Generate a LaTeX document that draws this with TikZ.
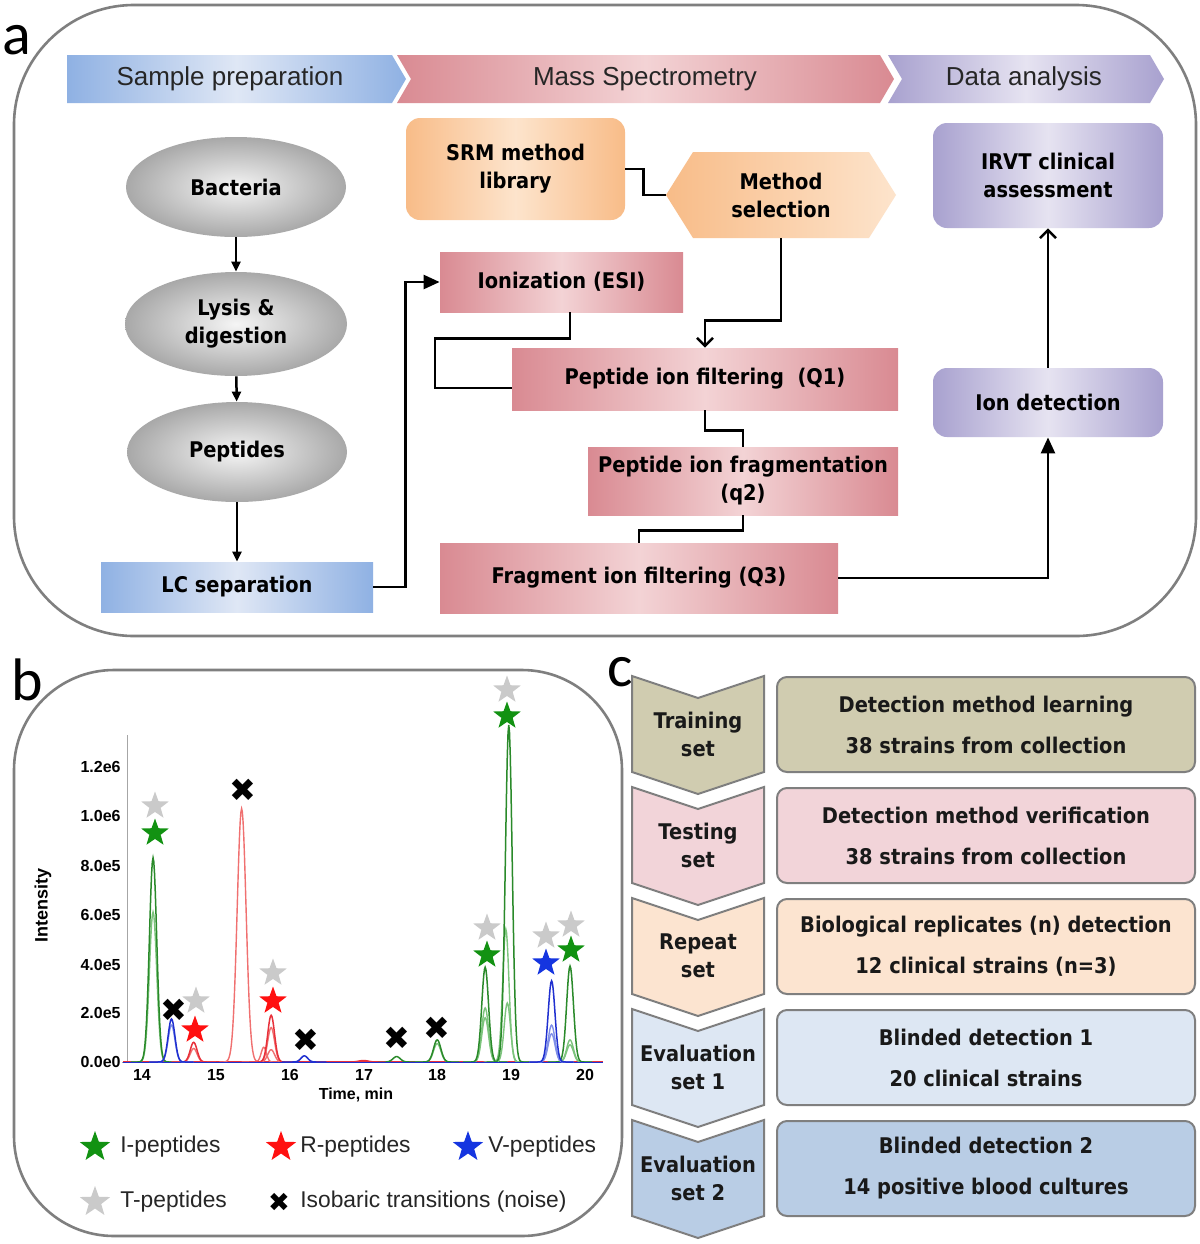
\documentclass[tikz,border=0pt]{standalone}
\usepackage{fontspec}
\setmainfont{Liberation Sans}
\newfontfamily\tah[FakeStretch=0.9]{DejaVu Sans}
\newfontfamily\djv{DejaVu Sans}
\newfontfamily\calfont{Carlito}
\usetikzlibrary{shapes.geometric,arrows.meta,calc}
\newcommand\bfont{\tah\bfseries\fontsize{10.8pt}{14pt}\selectfont}
\definecolor{frameC}{HTML}{7F7F7F}
\definecolor{spB}{HTML}{8FB1E3}
\definecolor{spL}{HTML}{DFE7F5}
\definecolor{msB}{HTML}{D98A92}
\definecolor{msL}{HTML}{F3D3D5}
\definecolor{daB}{HTML}{A8A1CF}
\definecolor{daL}{HTML}{E6E3F1}
\definecolor{orB}{HTML}{F8BC88}
\definecolor{orL}{HTML}{FDE4CC}
\definecolor{gD}{HTML}{2A8A2A}
\definecolor{gLc}{HTML}{7CC47C}
\definecolor{rDc}{HTML}{E8303A}
\definecolor{rLc}{HTML}{F07070}
\definecolor{bDc}{HTML}{2030D0}
\definecolor{bLc}{HTML}{8090E8}
\definecolor{stG}{HTML}{129212}
\definecolor{stR}{HTML}{FF1010}
\definecolor{stB}{HTML}{1535E0}
\definecolor{stT}{HTML}{CACACA}
\definecolor{c1}{HTML}{D0CCB0}
\definecolor{c2}{HTML}{F2D4D9}
\definecolor{c3}{HTML}{FCE4D0}
\definecolor{c4}{HTML}{DDE7F3}
\definecolor{c5}{HTML}{B9CDE5}
\newcommand\pk[4]{\draw[#1] plot[domain=-0.3:0.3,samples=61] ({142+(#2+\x-14)*73.8},{1062-#3*24.6*exp(-(\x/#4)*(\x/#4))});}
\begin{document}
\begin{tikzpicture}[x=0.5pt,y=-0.5pt,
  frame/.style={draw=frameC, line width=1.3pt},
  hdr/.style={font=\fontsize{13pt}{15pt}\selectfont, text=black!85, inner sep=0},
  ell/.style={ellipse, inner sep=0, inner color=gray!8, outer color=gray!68, font=\bfont, align=center},
  pinkbox/.style={rectangle, inner sep=0, left color=msB, right color=msB, middle color=msL, font=\bfont, align=center},
  bluebox/.style={rectangle, inner sep=0, left color=spB, right color=spB, middle color=spL, font=\bfont, align=center},
  lavbox/.style={rectangle, rounded corners=7pt, inner sep=0, left color=daB, right color=daB, middle color=daL, font=\bfont, align=center},
  orbox/.style={rectangle, rounded corners=7pt, inner sep=0, left color=orB, right color=orB, middle color=orL, font=\bfont, align=center},
  conn/.style={line width=1.25pt, draw=black},
  arS/.style={-{Triangle[length=5pt,width=4.5pt]}},
  arB/.style={-{Triangle[length=8pt,width=7pt]}},
  arO/.style={-{Straight Barb[length=4pt,width=8pt]}},
  gL/.style={draw=gLc, line width=0.7pt},
  gDk/.style={draw=gD, line width=0.75pt},
  rL/.style={draw=rLc, line width=0.7pt},
  rD/.style={draw=rDc, line width=0.75pt},
  bL/.style={draw=bLc, line width=0.7pt},
  bD/.style={draw=bDc, line width=0.75pt},
  pstar/.style={star, star points=5, star point ratio=2.45, minimum size=14.5pt, inner sep=0},
  xm/.style={font=\djv\fontsize{16pt}{16pt}\selectfont, inner sep=0},
  tick/.style={font=\bfseries\fontsize{8pt}{9pt}\selectfont, inner sep=0},
  leg/.style={font=\fontsize{11.4pt}{13pt}\selectfont, text=black!85, inner sep=0, anchor=west},
  chev/.style={draw=frameC, line width=1pt},
  chevt/.style={font=\bfont, align=center, inner sep=0, text=black!90},
  cbox/.style={rectangle, rounded corners=5pt, draw=frameC, line width=1pt, minimum width=209pt, minimum height=47.5pt, inner sep=0, align=center, font=\tah\bfseries\fontsize{10.8pt}{20.5pt}\selectfont, text=black!90}
]
\useasboundingbox (0,0) rectangle (1200,1244);
\fill[white] (0,0) rectangle (1200,1244);

% ---------------- panel a ----------------
\draw[frame, rounded corners=60pt] (14,5) rectangle (1196,636);
\node[font=\calfont\fontsize{30pt}{30pt}\selectfont, inner sep=0] (la) at (17,40) {a};

\path[left color=spB, right color=spB, middle color=spL] (67,55) -- (392,55) -- (406,79) -- (392,103) -- (67,103) -- cycle;
\path[left color=msB, right color=msB, middle color=msL] (397,55) -- (880,55) -- (894,79) -- (880,103) -- (397,103) -- (411,79) -- cycle;
\path[left color=daB, right color=daB, middle color=daL] (888,55) -- (1150,55) -- (1164,79) -- (1150,103) -- (888,103) -- (902,79) -- cycle;
\node[hdr] (hsp) at (230,79) {Sample preparation};
\node[hdr] (hms) at (645,79) {Mass Spectrometry};
\node[hdr] (hda) at (1024,79) {Data analysis};

\node[ell, minimum width=110pt, minimum height=50pt] (bact) at (236,187) {Bacteria};
\node[ell, minimum width=111pt, minimum height=52pt] (lysis) at (236,324) {Lysis \&\\digestion};
\node[ell, minimum width=110pt, minimum height=50pt] (pept) at (237,452) {Peptides};
\node[bluebox, minimum width=136pt, minimum height=25pt] (lc) at (237,587) {LC separation};

\node[orbox, minimum width=109.5pt, minimum height=51pt] (srm) at (515.5,169) {SRM method\\library};
\path[left color=orB, right color=orL] (666,195) -- (693,152) -- (869,152) -- (896,195) -- (869,238) -- (693,238) -- cycle;
\node[inner sep=0, minimum width=115pt, minimum height=43pt, font=\bfont, align=center] (msel) at (781,195) {Method\\selection};
\node[lavbox, minimum width=115pt, minimum height=52.5pt] (irvt) at (1048,175.5) {IRVT clinical\\assessment};

\node[pinkbox, minimum width=121.5pt, minimum height=30pt] (ion) at (561.5,282) {Ionization (ESI)};
\node[pinkbox, minimum width=193pt, minimum height=31pt] (q1) at (705,379) {Peptide ion filtering\ \ (Q1)};
\node[pinkbox, minimum width=155pt, minimum height=34pt] (q2) at (743,481) {Peptide ion fragmentation\\(q2)};
\node[pinkbox, minimum width=199pt, minimum height=35pt] (q3) at (639,578) {Fragment ion filtering (Q3)};
\node[lavbox, minimum width=115pt, minimum height=34.5pt] (det) at (1048,402.5) {Ion detection};

\draw[conn, arS] (bact) -- (lysis);
\draw[conn, arS] (lysis) -- (pept);
\draw[conn, arS] (pept) -- (lc);
\draw[conn, arB] (lc.east) -- ++(32,0) |- (ion.west);
\draw[conn] ($(ion.south)+(8.5,0)$) -- ++(0,26) -| (435,388) -- ($(q1.west)+(0,9)$);
\draw[conn, arO] (msel.south) -- ++(0,82) -| (q1.north);
\draw[conn] (q1.south) -- ++(0,20) -| (q2.north);
\draw[conn] (q2.south) -- ++(0,15) -| (q3.north);
\draw[conn, arB] (q3.east) -| (det.south);
\draw[conn, arO] (det.north) -- (irvt.south);
\draw[conn] (srm.east) -- ++(18,0) |- (msel.west);

% ---------------- panel b ----------------
\draw[frame, rounded corners=50pt] (14,670) rectangle (622,1236);
\node[font=\calfont\fontsize{30pt}{30pt}\selectfont, inner sep=0] (lb) at (27,680) {b};

\draw[gray!70, line width=0.5pt] (127,735) -- (127,1062);
\draw[gray!70, line width=0.5pt] (122,1062) -- (127,1062);
\node[tick, anchor=east] (y12) at (121,767) {1.2e6};
\node[tick, anchor=east] (y10) at (121,816) {1.0e6};
\node[tick, anchor=east] (y8) at (121,866) {8.0e5};
\node[tick, anchor=east] (y6) at (121,915) {6.0e5};
\node[tick, anchor=east] (y4) at (121,965) {4.0e5};
\node[tick, anchor=east] (y2) at (121,1013) {2.0e5};
\node[tick, anchor=east] (y0) at (121,1062) {0.0e0};
\node[tick, anchor=north] (x14) at (142,1069) {14};
\node[tick, anchor=north] (x15) at (216,1069) {15};
\node[tick, anchor=north] (x16) at (290,1069) {16};
\node[tick, anchor=north] (x17) at (364,1069) {17};
\node[tick, anchor=north] (x18) at (437,1069) {18};
\node[tick, anchor=north] (x19) at (511,1069) {19};
\node[tick, anchor=north] (x20) at (585,1069) {20};
\node[tick] (xlab) at (356,1095) {Time, min};
\node[font=\bfseries\fontsize{9pt}{10pt}\selectfont, rotate=90, inner sep=0] (ylab) at (43,905) {Intensity};

\draw[rD] (123,1062) -- (603,1062);
\pk{gL}{14.15}{6.1}{0.07}
\pk{gDk}{14.15}{8.3}{0.07}
\pk{gDk}{17.45}{0.22}{0.07}
\pk{gL}{18.0}{0.75}{0.07}
\pk{gDk}{18.0}{0.9}{0.07}
\pk{gL}{18.65}{1.8}{0.065}
\pk{gL}{18.65}{2.2}{0.065}
\pk{gDk}{18.65}{3.85}{0.065}
\pk{gL}{18.95}{2.4}{0.06}
\pk{gL}{18.93}{5.4}{0.06}
\pk{gDk}{18.97}{13.7}{0.065}
\pk{gL}{19.8}{0.7}{0.065}
\pk{gL}{19.8}{0.9}{0.065}
\pk{gDk}{19.8}{3.9}{0.065}
\pk{rL}{14.7}{0.55}{0.065}
\pk{rD}{14.7}{0.8}{0.065}
\pk{rL}{15.35}{10.3}{0.085}
\pk{rL}{15.65}{0.6}{0.05}
\pk{rL}{15.75}{0.5}{0.065}
\pk{rL}{15.75}{1.4}{0.065}
\pk{rD}{15.75}{1.9}{0.065}
\pk{rD}{17.0}{0.06}{0.09}
\draw[bD] (123,1062.5) -- (603,1062.5);
\pk{bL}{14.4}{1.5}{0.065}
\pk{bD}{14.4}{1.75}{0.065}
\pk{bD}{16.2}{0.25}{0.065}
\pk{bL}{19.55}{1.15}{0.065}
\pk{bL}{19.55}{1.5}{0.065}
\pk{bD}{19.55}{3.3}{0.065}

\node[pstar, fill=stT] (t1) at (155,806) {};
\node[pstar, fill=stG] (g1) at (155,833) {};
\node[xm] (n1) at (174,1010) {✖};
\node[pstar, fill=stT] (t2) at (196,1001) {};
\node[pstar, fill=stR] (r1) at (195,1030) {};
\node[xm] (n2) at (243,790) {✖};
\node[pstar, fill=stT] (t3) at (273,973) {};
\node[pstar, fill=stR] (r2) at (273,1001) {};
\node[xm] (n3) at (306,1040) {✖};
\node[xm] (n4) at (397,1038) {✖};
\node[xm] (n5) at (437,1028) {✖};
\node[pstar, fill=stT] (t4) at (487,928) {};
\node[pstar, fill=stG] (g2) at (487,955) {};
\node[pstar, fill=stT] (t5) at (507,690) {};
\node[pstar, fill=stG] (g3) at (507,716) {};
\node[pstar, fill=stT] (t6) at (546,936) {};
\node[pstar, fill=stB] (b1) at (546,963) {};
\node[pstar, fill=stT] (t7) at (571,925) {};
\node[pstar, fill=stG] (g4) at (571,950) {};

\node[pstar, fill=stG, minimum size=16pt] (lg1) at (95,1147) {};
\node[leg] (lt1) at (120,1147) {I-peptides};
\node[pstar, fill=stR, minimum size=16pt] (lg2) at (281,1147) {};
\node[leg] (lt2) at (300,1147) {R-peptides};
\node[pstar, fill=stB, minimum size=16pt] (lg3) at (468,1147) {};
\node[leg] (lt3) at (488,1147) {V-peptides};
\node[pstar, fill=stT, minimum size=16pt] (lg4) at (95,1202) {};
\node[leg] (lt4) at (120,1202) {T-peptides};
\node[xm, font=\djv\fontsize{13pt}{13pt}\selectfont] (lg5) at (279,1202) {✖};
\node[leg] (lt5) at (300,1202) {Isobaric transitions (noise)};

% ---------------- panel c ----------------
\node[font=\calfont\fontsize{30pt}{30pt}\selectfont, inner sep=0] (lcc) at (620,672) {c};

\draw[chev, fill=c1] (632,676) -- (698,698) -- (764,676) -- (764,772) -- (698,794) -- (632,772) -- cycle;
\draw[chev, fill=c2] (632,787) -- (698,809) -- (764,787) -- (764,883) -- (698,905) -- (632,883) -- cycle;
\draw[chev, fill=c3] (632,898) -- (698,920) -- (764,898) -- (764,994) -- (698,1016) -- (632,994) -- cycle;
\draw[chev, fill=c4] (632,1009) -- (698,1031) -- (764,1009) -- (764,1105) -- (698,1127) -- (632,1105) -- cycle;
\draw[chev, fill=c5] (632,1120) -- (698,1142) -- (764,1120) -- (764,1216) -- (698,1238) -- (632,1216) -- cycle;
\node[chevt] (ch1) at (698,734) {Training\\set};
\node[chevt] (ch2) at (698,845) {Testing\\set};
\node[chevt] (ch3) at (698,956) {Repeat\\set};
\node[chevt] (ch4) at (698,1067) {Evaluation\\set 1};
\node[chevt] (ch5) at (698,1178) {Evaluation\\set 2};

\node[cbox, fill=c1] (bx1) at (986,724.5) {Detection method learning\\38 strains from collection};
\node[cbox, fill=c2] (bx2) at (986,835.5) {Detection method verification\\38 strains from collection};
\node[cbox, fill=c3] (bx3) at (986,946.5) {Biological replicates (n) detection\\12 clinical strains (n=3)};
\node[cbox, fill=c4] (bx4) at (986,1057.5) {Blinded detection 1\\20 clinical strains};
\node[cbox, fill=c5] (bx5) at (986,1168.5) {Blinded detection 2\\14 positive blood cultures};
\end{tikzpicture}
\end{document}
